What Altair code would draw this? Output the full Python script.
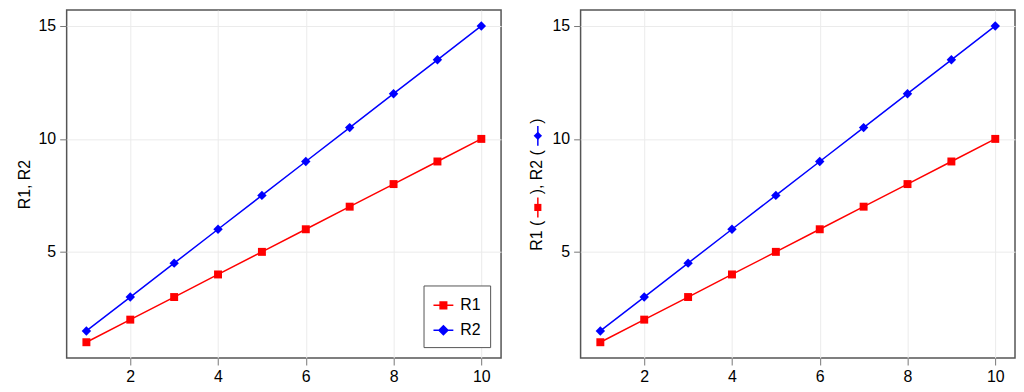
import altair as alt
import pandas as pd

# ---- data ----
x_vals = [1, 2, 3, 4, 5, 6, 7, 8, 9, 10]
r1_vals = [1, 2, 3, 4, 5, 6, 7, 8, 9, 10]
r2_vals = [1.5, 3, 4.5, 6, 7.5, 9, 10.5, 12, 13.5, 15]
series_names = ["R1", "R2"]
series_colors = ["#ff0000", "#0000ff"]
x_ticks = [2, 4, 6, 8, 10]
y_ticks = [5, 10, 15]
left_ytitle = "R1, R2"

df = pd.DataFrame({
    "x": x_vals + x_vals,
    "y": r1_vals + r2_vals,
    "series": [series_names[0]] * len(x_vals) + [series_names[1]] * len(x_vals),
})

FONT = "Liberation Sans"
W, H = 437, 350
xscale = alt.Scale(domain=[0.55, 10.45], nice=False, zero=False)
yscale = alt.Scale(domain=[0.3, 15.7], nice=False, zero=False)
marker_shapes = ["square", "diamond"]
marker_sizes = [64, 90]
legend_paths = [
    "M-1,0L1,0M-0.33,-0.33L0.33,-0.33L0.33,0.33L-0.33,0.33Z",
    "M-1,0L1,0M0,-0.45L0.45,0L0,0.45L-0.45,0Z",
]


def xenc():
    return alt.X("x:Q", scale=xscale, axis=alt.Axis(values=x_ticks, title=None))


def yenc(title, tpad):
    return alt.Y("y:Q", scale=yscale,
                 axis=alt.Axis(values=y_ticks, title=title, titlePadding=tpad))


def series_layers(title, tpad):
    layers = []
    for name, col, shp, sz in zip(series_names, series_colors, marker_shapes, marker_sizes):
        base = alt.Chart(df).transform_filter(alt.datum.series == name)
        layers.append(base.mark_line(color=col, strokeWidth=1.5).encode(
            x=xenc(), y=yenc(title, tpad)))
        layers.append(base.mark_point(color=col, filled=True, opacity=1, shape=shp, size=sz,
                                      strokeWidth=0).encode(x=xenc(), y=yenc(title, tpad)))
    return layers


leg = alt.Legend(title=None, orient="bottom-right", offset=11, symbolSize=400,
                 symbolStrokeWidth=1.5, symbolOpacity=1, labelFont=FONT, labelFontSize=16,
                 labelColor="black", padding=9, rowPadding=6, labelOffset=6,
                 strokeColor="#555555", fillColor="white", labelExpr="datum.label + ' '")

legend_layer = alt.Chart(df).transform_filter("false").mark_point(filled=True, opacity=1).encode(
    x=xenc(), y=yenc(left_ytitle, 6),
    color=alt.Color("series:N", scale=alt.Scale(domain=series_names, range=series_colors), legend=leg),
    stroke=alt.Stroke("series:N", scale=alt.Scale(domain=series_names, range=series_colors), legend=leg),
    shape=alt.Shape("series:N", scale=alt.Scale(domain=series_names, range=legend_paths), legend=leg),
)

left = alt.layer(*series_layers(left_ytitle, 6), legend_layer).properties(width=W, height=H)

# right panel: title with inline glyphs
nb = "\u00a0" * 6
right_title = f"{series_names[0]} ({nb}), {series_names[1]} ({nb})"
glyph_x = -43
glyph_centers = [H / 2 + 23.5, H / 2 - 48.5]
glyph_layers = []
for name, col, shp, sz, yc in zip(series_names, series_colors, marker_shapes, marker_sizes, glyph_centers):
    g = alt.Chart(pd.DataFrame({"series": [name]}))
    glyph_layers.append(g.mark_rule(color=col, strokeWidth=1.5).encode(
        x=alt.value(glyph_x), y=alt.value(yc - 10), y2=alt.value(yc + 10)))
    glyph_layers.append(g.mark_point(color=col, filled=True, opacity=1, shape=shp,
                                      size=sz * 0.8, strokeWidth=0).encode(
        x=alt.value(glyph_x), y=alt.value(yc)))

right = alt.layer(*series_layers(right_title, 8), *glyph_layers).properties(width=W, height=H)

chart = alt.hconcat(left, right, spacing=25).resolve_legend(
    color="independent", stroke="independent", shape="independent"
).resolve_scale(
    color="independent", stroke="independent", shape="independent"
).properties(
    padding={"left": 7, "top": 0, "right": 0, "bottom": 0}
).configure_axis(
    labelFont=FONT, labelFontSize=16, labelColor="black",
    titleFont=FONT, titleFontSize=16, titleFontWeight="normal", titleColor="black",
    tickColor="#777777", tickSize=7, tickWidth=1, labelPadding=4,
    domain=False, grid=True, gridColor="#ebebeb", gridWidth=1,
).configure_view(stroke="#555555", strokeWidth=1.5)

chart.save("out.html", embed_options={"renderer": "svg", "actions": False})
